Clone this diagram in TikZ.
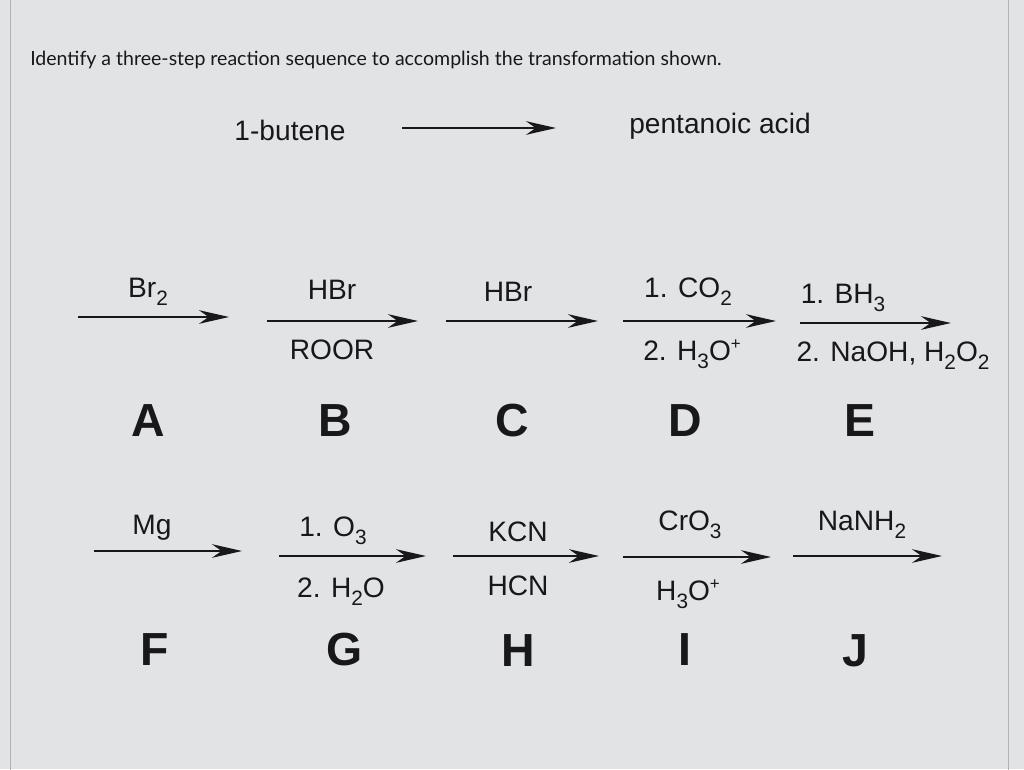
\documentclass[tikz,border=0pt]{standalone}
\usepackage{fontspec}
\usepackage{xcolor}
\usepackage{tikz}
\setmainfont{Liberation Sans}
\newfontfamily\qfont{Lato}
\usetikzlibrary{positioning,arrows.meta}
\definecolor{screen}{RGB}{226,227,229}
\definecolor{ink}{RGB}{24,24,26}
\newcommand{\lowr}[1]{\raisebox{-0.55ex}{\scalebox{0.74}{#1}}}
\newcommand{\plusup}{\raisebox{0.75ex}{\scalebox{0.6}{+}}}

\begin{document}
\begin{tikzpicture}[x=0.025cm, y=-0.025cm,
    reagent/.style={font=\fontsize{20}{23}\selectfont, text=ink, inner sep=0pt},
    letter/.style={font=\fontsize{33}{36}\selectfont\bfseries, text=ink, inner sep=0pt},
    rxn/.style={-{Stealth[length=7.5mm, width=3.4mm, inset=2.4mm]}, line width=1.4pt, ink},
]
\useasboundingbox (0,0) rectangle (1024,769);
\fill[screen] (0,0) rectangle (1024,769);
\draw[gray!60, line width=0.6pt] (10,-5) -- (10,775);
\draw[gray!60, line width=0.6pt] (1008,-5) -- (1008,775);

% Question
\node[anchor=west, font=\qfont\fontsize{13.9}{16}\selectfont, text=ink, inner sep=0pt] (quest) at (30,60)
  {Identify a three-step reaction sequence to accomplish the transformation shown.};

% Overall transformation
\node[reagent] (start) at (290,130) {1-butene};
\node[reagent] (goal) at (720,126) {pentanoic acid};
\coordinate (ovS) at (402,128);
\coordinate (ovE) at (556,128);
\draw[rxn] (ovS) -- (ovE);

% Row 1: A to E
\coordinate (aS) at (78,317);  \coordinate (aE) at (229,317);
\coordinate (bS) at (267,321); \coordinate (bE) at (418,321);
\coordinate (cS) at (446,321); \coordinate (cE) at (598,321);
\coordinate (dS) at (623,321); \coordinate (dE) at (776,321);
\coordinate (eS) at (800,323); \coordinate (eE) at (951,323);
\draw[rxn] (aS) -- (aE);
\draw[rxn] (bS) -- (bE);
\draw[rxn] (cS) -- (cE);
\draw[rxn] (dS) -- (dE);
\draw[rxn] (eS) -- (eE);

\node[reagent] (brtwo) at (148,292) {Br\lowr{2}};
\node[reagent] (hbrB) at (332,290) {HBr};
\node[reagent] (roor) at (332,350) {ROOR};
\node[reagent] (hbrC) at (508,292) {HBr};
\node[reagent] (cotwo) at (688,292) {1. CO\lowr{2}};
\node[reagent] (hydD) at (692,354) {2. H\lowr{3}O\plusup};
\node[reagent] (bhthree) at (843,298) {1. BH\lowr{3}};
\node[reagent] (naoh) at (893,356) {2. NaOH, H\lowr{2}O\lowr{2}};

\node[letter] (lblA) at (148,421) {A};
\node[letter] (lblB) at (335,421) {B};
\node[letter] (lblC) at (512,421) {C};
\node[letter] (lblD) at (685,421) {D};
\node[letter] (lblE) at (860,421) {E};

% Row 2: F to J
\coordinate (fS) at (94,551);  \coordinate (fE) at (242,551);
\coordinate (gS) at (279,556); \coordinate (gE) at (426,556);
\coordinate (hS) at (453,556); \coordinate (hE) at (599,556);
\coordinate (iS) at (623,557); \coordinate (iE) at (771,557);
\coordinate (jS) at (793,556); \coordinate (jE) at (942,556);
\draw[rxn] (fS) -- (fE);
\draw[rxn] (gS) -- (gE);
\draw[rxn] (hS) -- (hE);
\draw[rxn] (iS) -- (iE);
\draw[rxn] (jS) -- (jE);

\node[reagent] (mg) at (152,528) {Mg};
\node[reagent] (othree) at (333,531) {1. O\lowr{3}};
\node[reagent] (water) at (341,592) {2. H\lowr{2}O};
\node[reagent] (kcn) at (518,532) {KCN};
\node[reagent] (hcn) at (518,586) {HCN};
\node[reagent] (crothree) at (690,525) {CrO\lowr{3}};
\node[reagent] (hydI) at (688,594) {H\lowr{3}O\plusup};
\node[reagent] (nanh) at (862,525) {NaNH\lowr{2}};

\node[letter] (lblF) at (155,650) {F};
\node[letter] (lblG) at (345,650) {G};
\node[letter] (lblH) at (518,651) {H};
\node[letter] (lblI) at (685,650) {I};
\node[letter] (lblJ) at (855,651) {J};
\end{tikzpicture}
\end{document}
